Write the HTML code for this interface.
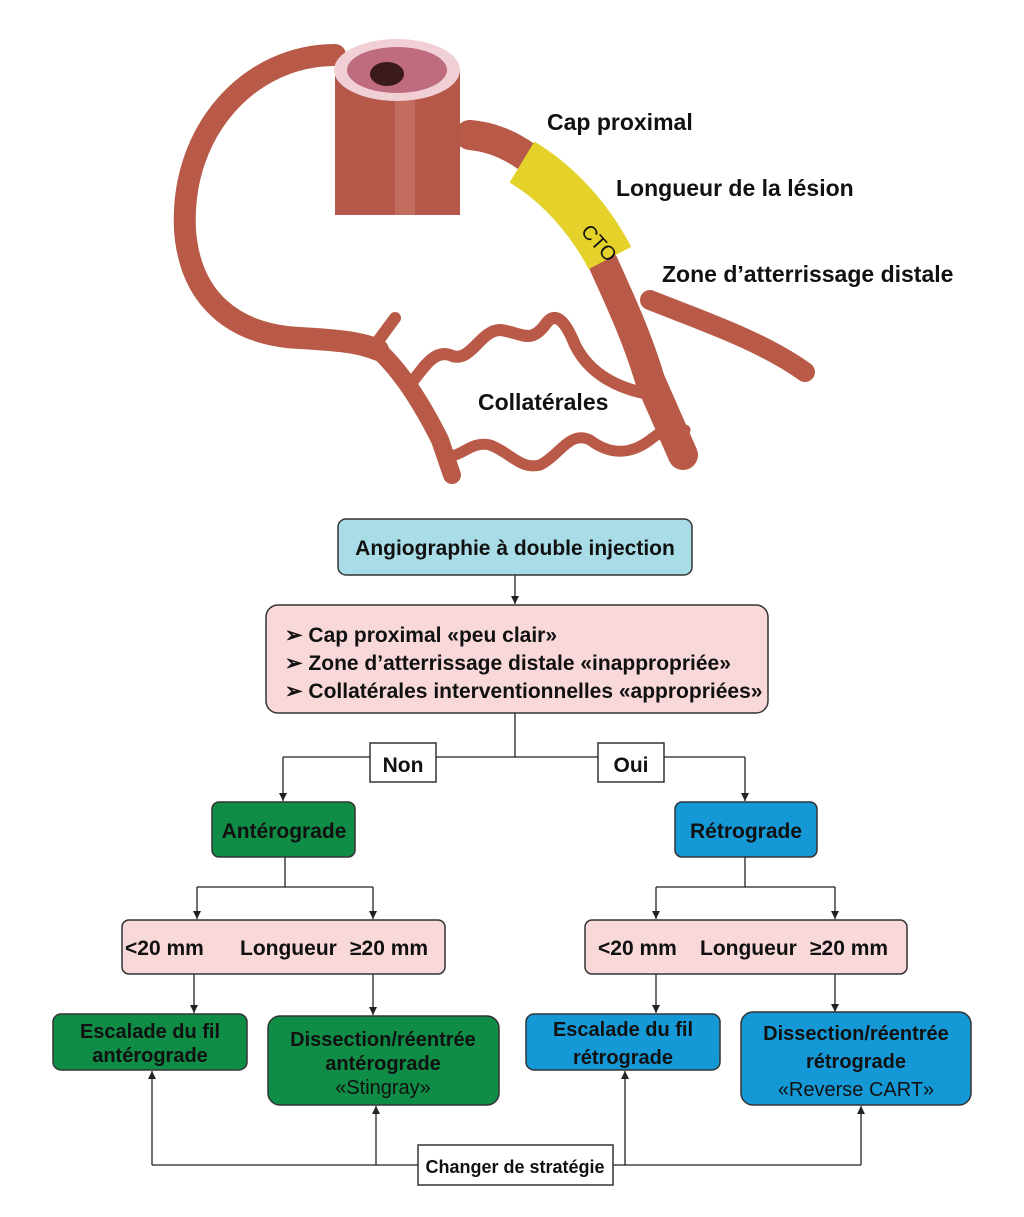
<!DOCTYPE html>
<html><head><meta charset="utf-8"><style>
body{margin:0;background:#fff;width:1024px;height:1217px;overflow:hidden}
svg{display:block}
text{font-family:"Liberation Sans",sans-serif;font-weight:bold;fill:#111}
text.n{font-weight:normal}
</style></head><body>
<svg width="1024" height="1217" viewBox="0 0 1024 1217">
<defs>
<marker id="a" markerWidth="8" markerHeight="8" refX="8" refY="4" orient="auto" markerUnits="userSpaceOnUse"><path d="M0,0 L8,4 L0,8 Z" fill="#222"/></marker>
</defs>
<g fill="none" stroke="#b85a47" stroke-linecap="round">
<path d="M335,55 C250,55 180,130 185,230 C190,300 235,335 300,338 C335,340 360,342 378,350" stroke-width="22"/>
<path d="M378,350 C400,370 420,400 440,440 L452,475" stroke-width="18"/>
<path d="M370,352 L395,318" stroke-width="12"/>
<path d="M410,385 C425,365 435,350 450,355 C470,365 480,330 500,330 C520,332 530,345 545,325 C555,310 565,320 575,345 C590,375 620,390 655,395" stroke-width="12"/>
<path d="M445,455 C460,460 470,440 490,445 C510,452 520,470 540,465 C560,455 570,430 590,440 C610,455 630,455 650,440 C665,428 675,425 685,430" stroke-width="11"/>
<path d="M470,135 C525,140 565,185 595,245 C615,290 635,330 650,380 L683,455" stroke-width="30"/>
<path d="M650,300 C700,320 760,340 805,372" stroke-width="20"/>
<path d="M522,162 C560,185 590,220 610,258" stroke="#e4d22a" stroke-width="48" stroke-linecap="butt"/>
</g>
<rect x="335" y="70" width="125" height="145" fill="#b5584a"/>
<rect x="395" y="70" width="20" height="145" fill="#c97a6a" opacity=".6"/>
<ellipse cx="397" cy="70" rx="63" ry="31" fill="#f0d0d4"/>
<ellipse cx="397" cy="70" rx="50" ry="23" fill="#c06c80"/>
<ellipse cx="387" cy="74" rx="17" ry="12" fill="#3a1a1a"/>
<text x="580" y="232" transform="rotate(48 580 232)" class="n" font-size="20">CTO</text>
<text x="547" y="130" font-size="23">Cap proximal</text>
<text x="616" y="196" font-size="23">Longueur de la lésion</text>
<text x="662" y="282" font-size="23">Zone d’atterrissage distale</text>
<text x="478" y="410" font-size="23">Collatérales</text>

<g stroke="#222" stroke-width="1.3" fill="none">
<line x1="515" y1="575" x2="515" y2="604" marker-end="url(#a)"/>
<path d="M515,713 V757 M283,757 H745"/>
<line x1="283" y1="757" x2="283" y2="801" marker-end="url(#a)"/>
<line x1="745" y1="757" x2="745" y2="801" marker-end="url(#a)"/>
<path d="M285,857 V887 M197,887 H373 M745,857 V887 M656,887 H835"/>
<line x1="197" y1="887" x2="197" y2="919" marker-end="url(#a)"/>
<line x1="373" y1="887" x2="373" y2="919" marker-end="url(#a)"/>
<line x1="656" y1="887" x2="656" y2="919" marker-end="url(#a)"/>
<line x1="835" y1="887" x2="835" y2="919" marker-end="url(#a)"/>
<line x1="194" y1="974" x2="194" y2="1013" marker-end="url(#a)"/>
<line x1="373" y1="974" x2="373" y2="1015" marker-end="url(#a)"/>
<line x1="656" y1="974" x2="656" y2="1013" marker-end="url(#a)"/>
<line x1="835" y1="974" x2="835" y2="1012" marker-end="url(#a)"/>
<path d="M418,1165 H152 M613,1165 H861"/>
<line x1="152" y1="1165" x2="152" y2="1071" marker-end="url(#a)"/>
<line x1="376" y1="1165" x2="376" y2="1106" marker-end="url(#a)"/>
<line x1="625" y1="1165" x2="625" y2="1071" marker-end="url(#a)"/>
<line x1="861" y1="1165" x2="861" y2="1106" marker-end="url(#a)"/>
</g>
<g stroke="#333" stroke-width="1.5">
<rect x="338" y="519" width="354" height="56" rx="8" fill="#a8dde7"/>
<rect x="266" y="605" width="502" height="108" rx="12" fill="#f8d8d8"/>
<rect x="370" y="743" width="66" height="39" fill="#fff"/>
<rect x="598" y="743" width="66" height="39" fill="#fff"/>
<rect x="212" y="802" width="143" height="55" rx="7" fill="#0f8c45"/>
<rect x="675" y="802" width="142" height="55" rx="7" fill="#1599d6"/>
<rect x="122" y="920" width="323" height="54" rx="7" fill="#f8d8d8"/>
<rect x="585" y="920" width="322" height="54" rx="7" fill="#f8d8d8"/>
<rect x="53" y="1014" width="194" height="56" rx="8" fill="#0f8c45"/>
<rect x="268" y="1016" width="231" height="89" rx="12" fill="#0f8c45"/>
<rect x="526" y="1014" width="194" height="56" rx="8" fill="#1599d6"/>
<rect x="741" y="1012" width="230" height="93" rx="12" fill="#1599d6"/>
<rect x="418" y="1145" width="195" height="40" fill="#fff"/>
</g>
<text x="515" y="555" text-anchor="middle" font-size="21">Angiographie à double injection</text>
<g font-size="21">
<text x="285" y="642">➢ Cap proximal «peu clair»</text>
<text x="285" y="670">➢ Zone d’atterrissage distale «inappropriée»</text>
<text x="285" y="698">➢ Collatérales interventionnelles «appropriées»</text>
<text x="403" y="772" text-anchor="middle">Non</text>
<text x="631" y="772" text-anchor="middle">Oui</text>
<text x="284" y="838" text-anchor="middle">Antérograde</text>
<text x="746" y="838" text-anchor="middle">Rétrograde</text>
<text x="125" y="955">&lt;20 mm</text><text x="240" y="955">Longueur</text><text x="350" y="955">≥20 mm</text>
<text x="598" y="955">&lt;20 mm</text><text x="700" y="955">Longueur</text><text x="810" y="955">≥20 mm</text>
</g>
<g font-size="20" text-anchor="middle">
<text x="150" y="1038">Escalade du fil</text>
<text x="150" y="1062">antérograde</text>
<text x="383" y="1046">Dissection/réentrée</text>
<text x="383" y="1070">antérograde</text>
<text x="383" y="1094" class="n">«Stingray»</text>
<text x="623" y="1036">Escalade du fil</text>
<text x="623" y="1064">rétrograde</text>
<text x="856" y="1040">Dissection/réentrée</text>
<text x="856" y="1068">rétrograde</text>
<text x="856" y="1096" class="n">«Reverse CART»</text>
</g>
<text x="515" y="1173" font-size="18" text-anchor="middle">Changer de stratégie</text>
</svg>
</body></html>
